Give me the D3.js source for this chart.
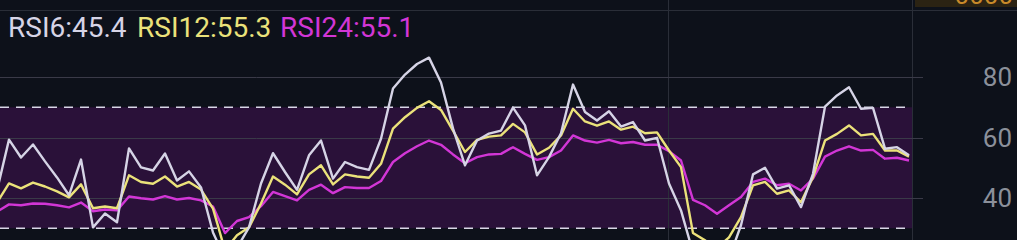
<!DOCTYPE html>
<html>
<head>
<meta charset="utf-8">
<script src="https://cdn.jsdelivr.net/npm/d3@7"></script>
<style>
  body { margin: 0; background: #0d111a; overflow: hidden; }
  text { font-family: Roboto, "Noto Sans", sans-serif; }
</style>
</head>
<body>
<div id="container"><svg></svg></div>
<script>
let width = 1017;
let height = 240;

// bar index of first value (partly cut off at left edge)
let firstIndex = -1;

let rsi6 = [42.5, 59.3, 53.4, 57.7, 52.1, 46.8, 40.9, 52.7, 30.3, 34.9, 32.0,
  56.4, 50.1, 49.1, 54.7, 45.8, 48.8, 43.5, 28.6, 20.0, 23.5, 30.3,
  44.8, 54.8, 48.6, 42.7, 54.1, 59.0, 46.4, 51.9, 50.2, 49.3, 59.6,
  76.2, 80.8, 84.3, 86.4, 78.2, 63.0, 50.8, 59.0, 61.3, 62.3, 69.9,
  64.0, 47.5, 53.5, 61.4, 77.5, 68.4, 65.6, 68.7, 63.6, 65.1, 59.0,
  59.9, 44.8, 35.9, 22.0, 18.0, 17.0, 20.0, 31.0, 47.8, 50.0, 43.1,
  44.2, 37.0, 48.0, 70.2, 73.9, 76.6, 69.5, 69.8, 56.3, 56.8, 54.1];

let rsi12 = [38.5, 44.8, 43.2, 45.1, 43.8, 42.2, 40.2, 44.5, 36.6, 37.2, 36.6,
  47.5, 45.3, 44.7, 47.1, 43.8, 45.3, 42.8, 36.5, 22.7, 27.7, 30.3,
  38.2, 47.1, 44.4, 41.2, 47.8, 50.8, 44.5, 47.8, 47.1, 46.7, 51.3,
  62.9, 66.7, 69.8, 72.0, 69.1, 62.3, 55.2, 59.2, 60.3, 60.7, 64.5,
  61.7, 54.4, 56.6, 60.7, 69.5, 65.3, 63.9, 65.3, 62.6, 63.6, 61.4,
  61.7, 55.7, 50.2, 28.4, 26.0, 23.4, 27.0, 33.7, 44.2, 45.3, 41.4,
  42.5, 38.6, 46.9, 59.0, 61.2, 64.0, 60.7, 61.2, 55.7, 55.7, 53.7];

let rsi24 = [35.5, 37.9, 37.6, 38.2, 38.1, 37.6, 36.9, 38.5, 35.6, 36.2, 35.9,
  40.5, 39.9, 39.5, 40.6, 39.5, 40.0, 39.2, 37.2, 28.4, 32.4, 33.7,
  37.3, 42.0, 40.6, 39.2, 42.7, 44.4, 41.6, 43.6, 43.3, 43.3, 45.6,
  51.9, 54.8, 57.1, 59.0, 57.6, 54.4, 51.5, 53.5, 54.4, 54.6, 56.8,
  54.6, 52.6, 53.5, 55.7, 60.7, 59.0, 58.3, 59.2, 58.1, 58.5, 57.6,
  57.6, 55.5, 52.4, 39.4, 37.6, 34.8, 37.6, 40.3, 45.3, 46.4, 44.2,
  44.7, 42.5, 46.4, 53.7, 55.7, 57.1, 55.7, 55.9, 53.0, 53.3, 52.4];

let legendLabels = ["RSI6:45.4", "RSI12:55.3", "RSI24:55.1"];
let axisTicks = [80, 60, 40];
let bandLevels = [70, 30];

let colors = { rsi6: "#d6d4e6", rsi12: "#ebe27a", rsi24: "#d236d6" };

let plotRight = 912;
let plotTop = 10;

let x = d3.scaleLinear().domain([-1, 75]).range([-3, 909]);
let y = d3.scaleLinear().domain([40, 80]).range([198, 77]);

let svg = d3.select("#container").select("svg")
    .attr("width", width)
    .attr("height", height);

svg.append("rect")
    .attr("width", width).attr("height", height)
    .attr("fill", "#0d111a");

// top-right price tag, mostly cut off in the screenshot
svg.append("rect")
    .attr("x", 915).attr("y", 0)
    .attr("width", 102).attr("height", 7)
    .attr("fill", "#2b2313");
svg.append("text")
    .attr("x", 1013).attr("y", 4)
    .attr("text-anchor", "end")
    .attr("font-size", 26)
    .attr("fill", "#c88a2a")
    .text("0000");

// overbought/oversold band
svg.append("rect")
    .attr("x", 0)
    .attr("y", y(bandLevels[0]))
    .attr("width", plotRight)
    .attr("height", y(bandLevels[1]) - y(bandLevels[0]))
    .attr("fill", "#2a1139");

// frame lines
svg.append("line")
    .attr("x1", 0).attr("x2", width)
    .attr("y1", plotTop + 0.5).attr("y2", plotTop + 0.5)
    .attr("stroke", "#2a2e38");
[668.5, plotRight + 0.5].forEach(v => {
  svg.append("line")
      .attr("x1", v).attr("x2", v)
      .attr("y1", 0).attr("y2", height)
      .attr("stroke", "#2a2e38");
});

// horizontal grid at tick values
svg.append("g")
    .selectAll("line")
    .data(axisTicks)
    .join("line")
    .attr("x1", 0).attr("x2", 923)
    .attr("y1", d => Math.round(y(d)) + 0.5)
    .attr("y2", d => Math.round(y(d)) + 0.5)
    .attr("stroke", "#3a3a48")
    .attr("stroke-width", 1);

// dashed 70 / 30 levels
svg.append("g")
    .selectAll("line")
    .data(bandLevels)
    .join("line")
    .attr("x1", 0).attr("x2", plotRight)
    .attr("y1", d => y(d)).attr("y2", d => y(d))
    .attr("stroke", "#d8d6e6")
    .attr("stroke-width", 1.5)
    .attr("stroke-dasharray", "9,7");

// right axis labels
svg.append("g")
    .selectAll("text")
    .data(axisTicks)
    .join("text")
    .attr("x", 1012)
    .attr("y", d => y(d))
    .attr("text-anchor", "end")
    .attr("dominant-baseline", "central")
    .attr("font-size", 26)
    .attr("fill", "#8b909a")
    .text(d => d);

// lines, clipped to the plot area
svg.append("clipPath").attr("id", "plot-clip")
  .append("rect")
    .attr("x", 0).attr("y", plotTop)
    .attr("width", plotRight).attr("height", height - plotTop);

let line = d3.line()
    .x((d, i) => x(i + firstIndex))
    .y(d => y(d));

let lines = svg.append("g").attr("clip-path", "url(#plot-clip)");
[[rsi24, colors.rsi24], [rsi12, colors.rsi12], [rsi6, colors.rsi6]].forEach(s => {
  lines.append("path")
      .datum(s[0])
      .attr("d", line)
      .attr("fill", "none")
      .attr("stroke", s[1])
      .attr("stroke-width", 2.4)
      .attr("stroke-linejoin", "round");
});

// legend
let legendX = [8, 137, 280];
let legendColors = [colors.rsi6, colors.rsi12, colors.rsi24];
svg.append("g")
    .selectAll("text")
    .data(legendLabels)
    .join("text")
    .attr("x", (d, i) => legendX[i])
    .attr("y", 37)
    .attr("font-size", 28)
    .attr("fill", (d, i) => legendColors[i])
    .text(d => d);
</script>
</body>
</html>
